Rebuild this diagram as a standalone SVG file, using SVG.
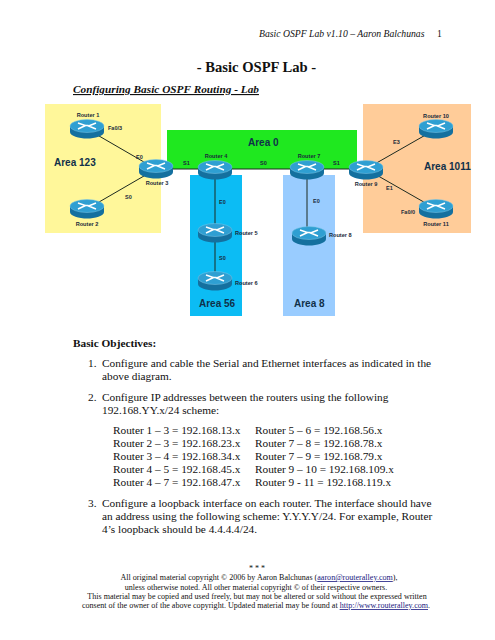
<svg xmlns="http://www.w3.org/2000/svg" width="495" height="640" viewBox="0 0 495 640">
<style>
text{font-family:"Liberation Serif",serif;fill:#111}
.d{font-family:"Liberation Sans",sans-serif;font-weight:bold;fill:#1a2a3a}
.s{font-size:5.500px}
.r{font-size:5.600px}
.a{font-size:10px;fill:#10304a}
.t{font-size:11.300px}
.f{font-size:8.050px}
.l{stroke:#1c2a20;stroke-width:1;fill:none}
.u{fill:#1a1a80;text-decoration:underline}
</style>
<defs>
<g id="rt">
<path d="M-17-3V3C-17 7 -8 9.500 0 9.500S17 7 17 3V-3Z" fill="#14709f"/>
<ellipse cx="0" cy="-3" rx="17" ry="6.500" fill="#2f9fd2" stroke="#7cc6e6" stroke-width=".5"/>
<path d="M-9-6L-1.500-3.500L-9 0M9-6L1.500-3L9 0M-1.500-3.500H1.500" stroke="#fff" stroke-width="1.500" fill="none"/>
</g>
</defs>
<rect width="495" height="640" fill="#fff"/>
<text x="259" y="37" font-size="9.700" font-style="italic">Basic OSPF Lab v1.10 – Aaron Balchunas</text>
<text x="437" y="37" font-size="9.700">1</text>
<text x="256.500" y="72" font-size="14.600" font-weight="bold" text-anchor="middle">- Basic OSPF Lab -</text>
<text x="73" y="93" class="t" font-weight="bold" font-style="italic" text-decoration="underline">Configuring Basic OSPF Routing - Lab</text>
<g id="areas">
<rect x="45" y="104" width="116" height="129" fill="#fff79a"/>
<rect x="167" y="130" width="190" height="39" fill="#1fe81f"/>
<rect x="190" y="175" width="52" height="141" fill="#0cbcf4"/>
<rect x="283" y="175" width="52" height="141" fill="#99ccff"/>
<rect x="363" y="104" width="108" height="129" fill="#ffcc99"/>
</g>
<g id="connectors" class="l">
<path d="M87 129L156 169M87 209L156 169M156 169H366M215 170V281M307 170V236M366 169L436 129M366 169L436 209"/>
</g>
<g id="router1"><use href="#rt" x="87" y="129"/><text class="d r" x="88" y="117" text-anchor="middle">Router 1</text></g>
<g id="router2"><use href="#rt" x="87" y="209"/><text class="d r" x="87" y="226" text-anchor="middle">Router 2</text></g>
<g id="router3"><use href="#rt" x="156" y="169"/><text class="d r" x="157" y="185" text-anchor="middle">Router 3</text></g>
<g id="router4"><use href="#rt" x="215" y="170"/><text class="d r" x="216" y="158" text-anchor="middle">Router 4</text></g>
<g id="router5"><use href="#rt" x="215" y="233"/><text class="d r" x="235" y="235">Router 5</text></g>
<g id="router6"><use href="#rt" x="215" y="281"/><text class="d r" x="235" y="285">Router 6</text></g>
<g id="router7"><use href="#rt" x="307" y="170"/><text class="d r" x="309" y="158" text-anchor="middle">Router 7</text></g>
<g id="router8"><use href="#rt" x="309" y="236"/><text class="d r" x="329" y="237">Router 8</text></g>
<g id="router9"><use href="#rt" x="366" y="170"/><text class="d r" x="366" y="186" text-anchor="middle">Router 9</text></g>
<g id="router10"><use href="#rt" x="436" y="129"/><text class="d r" x="436" y="118" text-anchor="middle">Router 10</text></g>
<g id="router11"><use href="#rt" x="436" y="209"/><text class="d r" x="436" y="226" text-anchor="middle">Router 11</text></g>
<g id="labels">
<text class="d s" x="108" y="130">Fa0/3</text>
<text class="d s" x="136" y="159">E0</text>
<text class="d s" x="125" y="199">S0</text>
<text class="d s" x="183" y="165">S1</text>
<text class="d s" x="260" y="165">S0</text>
<text class="d s" x="333" y="165">S1</text>
<text class="d s" x="219" y="204">E0</text>
<text class="d s" x="219" y="260">S0</text>
<text class="d s" x="313" y="203">E0</text>
<text class="d s" x="393" y="144">E3</text>
<text class="d s" x="386" y="190">E1</text>
<text class="d s" x="401" y="214">Fa0/0</text>
<text class="d a" x="54" y="166">Area 123</text>
<text class="d a" x="248" y="146">Area 0</text>
<text class="d a" x="199" y="307">Area 56</text>
<text class="d a" x="294" y="307">Area 8</text>
<text class="d a" x="424" y="170">Area 1011</text>
</g>
<g id="objectives">
<text class="t" x="73" y="347" font-weight="bold">Basic Objectives:</text>
<text class="t" x="88" y="367">1.</text><text class="t" x="102" y="367">Configure and cable the Serial and Ethernet interfaces as indicated in the</text>
<text class="t" x="102" y="380">above diagram.</text>
<text class="t" x="88" y="401">2.</text><text class="t" x="102" y="401">Configure IP addresses between the routers using the following</text>
<text class="t" x="102" y="414">192.168.YY.x/24 scheme:</text>
<text class="t" x="113" y="434">Router 1 – 3 = 192.168.13.x</text>
<text class="t" x="113" y="447">Router 2 – 3 = 192.168.23.x</text>
<text class="t" x="113" y="460">Router 3 – 4 = 192.168.34.x</text>
<text class="t" x="113" y="473">Router 4 – 5 = 192.168.45.x</text>
<text class="t" x="113" y="486">Router 4 – 7 = 192.168.47.x</text>
<text class="t" x="255" y="434">Router 5 – 6 = 192.168.56.x</text>
<text class="t" x="255" y="447">Router 7 – 8 = 192.168.78.x</text>
<text class="t" x="255" y="460">Router 7 – 9 = 192.168.79.x</text>
<text class="t" x="255" y="473">Router 9 – 10 = 192.168.109.x</text>
<text class="t" x="255" y="486">Router 9 - 11 = 192.168.119.x</text>
<text class="t" x="88" y="507">3.</text><text class="t" x="102" y="507">Configure a loopback interface on each router. The interface should have</text>
<text class="t" x="102" y="520">an address using the following scheme: Y.Y.Y.Y/24. For example, Router</text>
<text class="t" x="102" y="533">4’s loopback should be 4.4.4.4/24.</text>
</g>
<g id="footer">
<text class="f" x="257" y="571" text-anchor="middle">* * *</text>
<text class="f" x="259" y="580" text-anchor="middle">All original material copyright © 2006 by Aaron Balchunas (<tspan class="u">aaron@routeralley.com</tspan>),</text>
<text class="f" x="256" y="590" text-anchor="middle">unless otherwise noted.  All other material copyright © of their respective owners.</text>
<text class="f" x="257" y="599" text-anchor="middle">This material may be copied and used freely, but may not be altered or sold without the expressed written</text>
<text class="f" x="256" y="608" text-anchor="middle">consent of the owner of the above copyright. Updated material may be found at <tspan class="u">http://www.routeralley.com</tspan>.</text>
</g>
</svg>
